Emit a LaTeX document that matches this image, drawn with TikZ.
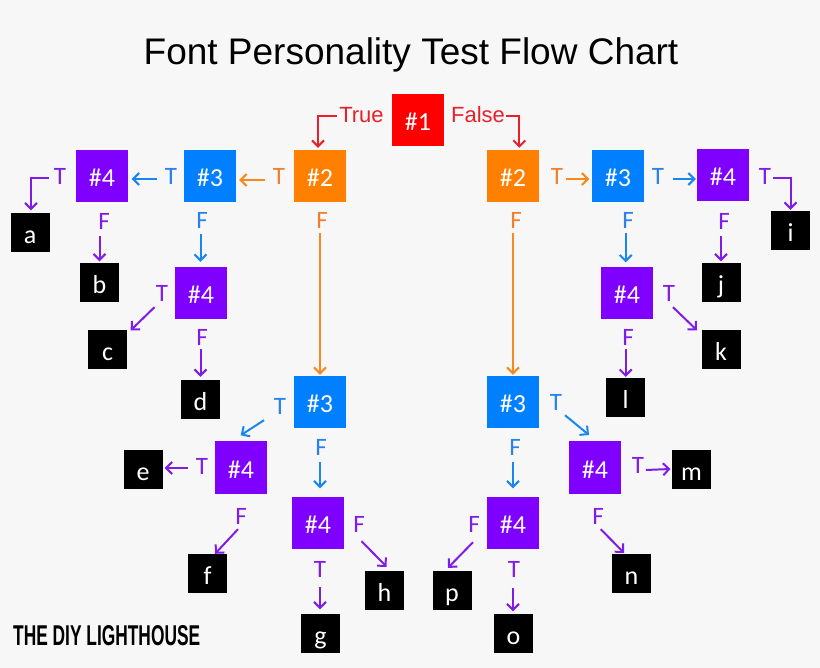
\documentclass[tikz,border=0pt]{standalone}
\usepackage{fontspec}
\usepackage{graphicx}
\setmainfont{Liberation Sans}
\newfontfamily\carlito{Carlito}
\usetikzlibrary{arrows.meta}
\definecolor{bgc}{HTML}{F7F7F8}
\definecolor{cred}{HTML}{FF0000}
\definecolor{corange}{HTML}{FF8000}
\definecolor{cblue}{HTML}{0080FF}
\definecolor{cpurple}{HTML}{8000FF}
\definecolor{lred}{HTML}{E8202A}
\definecolor{lorange}{HTML}{EE7F2D}
\definecolor{lblue}{HTML}{2A80EC}
\definecolor{lpurple}{HTML}{7F1CE6}
\definecolor{aorange}{HTML}{F58A1E}
\definecolor{ablue}{HTML}{1A86F0}
\tikzset{
  qbox/.style={minimum size=52pt,inner sep=0pt,text=white,font=\carlito\fontsize{26}{30}\selectfont,text height=22pt,text depth=0pt},
  leaf/.style={fill=black,minimum size=39pt,inner sep=0pt,text=white,font=\carlito\fontsize{26}{30}\selectfont,text height=22pt,text depth=0pt},
  lbl/.style={inner sep=0pt,font=\carlito\fontsize{25}{30}\selectfont,text height=16pt,text depth=0pt},
  word/.style={inner sep=0pt,font=\fontsize{22}{26}\selectfont,text=lred,text height=16pt,text depth=0pt},
  arr/.style={line width=2pt,-{Straight Barb[length=6pt,width=12pt,line width=2pt]}},
  ar/.style={arr,color=lred},
  ao/.style={arr,color=aorange},
  ab/.style={arr,color=ablue},
  ap/.style={arr,color=lpurple},
}
\begin{document}
\begin{tikzpicture}[x=1pt,y=-1pt]
\fill[bgc] (0,0) rectangle (820,668);
\useasboundingbox (0,0) rectangle (820,668);
\node[inner sep=0pt,font=\fontsize{37}{44}\selectfont] (title) at (411,55) {Font Personality Test Flow Chart};
% question boxes
\node[qbox,fill=cred] (root) at (418,120) {\#1};
\node[qbox,fill=corange] (b2L) at (320,176) {\#2};
\node[qbox,fill=corange] (b2R) at (513,176) {\#2};
\node[qbox,fill=cblue] (b3L) at (210,176) {\#3};
\node[qbox,fill=cblue] (b3R) at (618,176) {\#3};
\node[qbox,fill=cblue] (b3LL) at (320,402) {\#3};
\node[qbox,fill=cblue] (b3RL) at (513,402) {\#3};
\node[qbox,fill=cpurple] (b4a) at (102,176) {\#4};
\node[qbox,fill=cpurple] (b4c) at (201,293) {\#4};
\node[qbox,fill=cpurple] (b4e) at (241,467.5) {\#4};
\node[qbox,fill=cpurple] (b4g) at (318,522.5) {\#4};
\node[qbox,fill=cpurple] (b4i) at (723,175) {\#4};
\node[qbox,fill=cpurple] (b4k) at (627,293) {\#4};
\node[qbox,fill=cpurple] (b4m) at (595,467.5) {\#4};
\node[qbox,fill=cpurple] (b4o) at (513,522.5) {\#4};
% leaves
\node[leaf] (la) at (30,232.5) {a};
\node[leaf] (lb) at (99.5,283) {b};
\node[leaf] (lc) at (107.5,350) {c};
\node[leaf] (ld) at (200.5,399.5) {d};
\node[leaf] (le) at (143,469.5) {e};
\node[leaf] (lf) at (207.5,573.5) {f};
\node[leaf] (lg) at (320.5,633) {g};
\node[leaf] (lh) at (384.5,590.5) {h};
\node[leaf] (li) at (790.5,230.5) {i};
\node[leaf] (lj) at (721,283) {j};
\node[leaf] (lk) at (721,350) {k};
\node[leaf] (ll) at (625.5,397.5) {l};
\node[leaf] (lm) at (691.5,469.5) {m};
\node[leaf] (ln) at (631.5,573.5) {n};
\node[leaf] (lo) at (513.5,633) {o};
\node[leaf] (lp) at (452,590.5) {p};
% labels
\node[word] (wtrue) at (361.5,115) {True};
\node[word] (wfalse) at (478,115) {False};
\node[lbl,text=lorange] (t1) at (279,177) {T};
\node[lbl,text=lblue] (t2) at (171,177) {T};
\node[lbl,text=lpurple] (t3) at (60,177) {T};
\node[lbl,text=lpurple] (f3) at (104,222) {F};
\node[lbl,text=lblue] (f2) at (202,221) {F};
\node[lbl,text=lorange] (f1) at (322,221) {F};
\node[lbl,text=lpurple] (t4) at (162,294) {T};
\node[lbl,text=lpurple] (f4) at (202,338) {F};
\node[lbl,text=lblue] (t5) at (280,407) {T};
\node[lbl,text=lblue] (f5) at (321,448) {F};
\node[lbl,text=lpurple] (t6) at (202,467) {T};
\node[lbl,text=lpurple] (f6) at (241,516) {F};
\node[lbl,text=lpurple] (f7) at (359,524) {F};
\node[lbl,text=lpurple] (t7) at (320,569) {T};
\node[lbl,text=lorange] (t8) at (557,177) {T};
\node[lbl,text=lblue] (t9) at (658,177) {T};
\node[lbl,text=lpurple] (t10) at (765,177) {T};
\node[lbl,text=lorange] (f8) at (516,221) {F};
\node[lbl,text=lblue] (f9) at (628,221) {F};
\node[lbl,text=lpurple] (f10) at (724,222) {F};
\node[lbl,text=lpurple] (t11) at (669,294) {T};
\node[lbl,text=lpurple] (f11) at (628,338) {F};
\node[lbl,text=lblue] (t12) at (556,403) {T};
\node[lbl,text=lblue] (f12) at (515,448) {F};
\node[lbl,text=lpurple] (t13) at (638,466) {T};
\node[lbl,text=lpurple] (f13) at (598,516) {F};
\node[lbl,text=lpurple] (f14) at (474,524) {F};
\node[lbl,text=lpurple] (t14) at (514,569) {T};
% connectors
\coordinate (cTrue) at (337,116);
\coordinate (cFalse) at (506,116);
\draw[ar] (cTrue) -| ([xshift=-2pt,yshift=2pt]b2L.north);
\draw[ar] (cFalse) -| ([xshift=6.3pt,yshift=2pt]b2R.north);
\draw[ao] ([xshift=-8pt,yshift=-3pt]t1.west) -- ([xshift=3pt,yshift=-4pt]b3L.east);
\draw[ab] ([xshift=-8pt,yshift=-2pt]t2.west) -- ([xshift=3.5pt,yshift=-3pt]b4a.east);
\draw[ap] ([xshift=-5pt,yshift=-1pt]t3.west) -| ([xshift=1pt,yshift=2.5pt]la.north);
\draw[ap] ([xshift=-4.5pt,yshift=-6pt]f3.south) -- ([yshift=2pt]lb.north);
\draw[ab] ([xshift=-1.5pt,yshift=-5pt]f2.south) -- ([xshift=-.5pt,yshift=5pt]b4c.north);
\draw[ao] ([xshift=-2pt,yshift=-4pt]f1.south) -- ([yshift=1pt]b3LL.north);
\draw[ap] ([xshift=-7.5pt,yshift=-5pt]t4.south) -- ([xshift=3.5pt]lc.north east);
\draw[ap] ([xshift=-1.5pt,yshift=-3pt]f4.south) -- ([yshift=3pt]ld.north);
\draw[ab] ([xshift=-16pt,yshift=-5pt]t5.south) -- ([xshift=-.3pt,yshift=6pt]b4e.north);
\draw[ab] ([xshift=-1pt,yshift=-6pt]f5.south) -- ([xshift=2pt,yshift=8pt]b4g.north);
\draw[ap] ([xshift=-8pt,yshift=-1pt]t6.west) -- ([xshift=2pt,yshift=1.5pt]le.east);
\draw[ap] ([xshift=-3pt,yshift=-5pt]f6.south) -- ([xshift=7.5pt]lf.north);
\draw[ap] ([xshift=2.5pt,yshift=-9pt]f7.south) -- ([xshift=2.2pt,yshift=4pt]lh.north);
\draw[ap] ([yshift=-10pt]t7.south) -- ([xshift=-.5pt,yshift=4pt]lg.north);
\draw[ao] ([xshift=3pt,yshift=-2pt]t8.east) -- ([xshift=-2.5pt,yshift=-3pt]b3R.west);
\draw[ab] ([xshift=9pt,yshift=-2pt]t9.east) -- ([xshift=-1pt,yshift=-4pt]b4i.west);
\draw[ap] ([xshift=2pt,yshift=-1pt]t10.east) -| ([yshift=1pt]li.north);
\draw[ap] ([xshift=-3pt,yshift=-6pt]f10.south) -- ([yshift=2pt]lj.north);
\draw[ab] ([xshift=-2.3pt,yshift=-4pt]f9.south) -- ([xshift=-1.3pt,yshift=4.5pt]b4k.north);
\draw[ap] ([xshift=4pt,yshift=-5pt]t11.south) -- ([xshift=-4.3pt]lk.north west);
\draw[ap] ([xshift=-2.3pt,yshift=-3pt]f11.south) -- ([xshift=.2pt,yshift=1pt]ll.north);
\draw[ao] ([xshift=-3pt,yshift=-4pt]f8.south) -- ([yshift=1pt]b3RL.north);
\draw[ab] ([xshift=9pt,yshift=-4pt]t12.south) -- ([xshift=-6pt,yshift=6.3pt]b4m.north);
\draw[ab] ([xshift=-2pt,yshift=-6pt]f12.south) -- ([yshift=8pt]b4o.north);
\draw[ap] ([xshift=1.5pt,yshift=-4pt]t13.east) -- ([xshift=-1.3pt,yshift=.5pt]lm.west);
\draw[ap] ([xshift=2.7pt,yshift=-5pt]f13.south) -- ([xshift=-7.5pt,yshift=1pt]ln.north);
\draw[ap] ([xshift=-1pt,yshift=-10pt]f14.south) -- ([xshift=-4pt,yshift=3pt]lp.north);
\draw[ap] ([xshift=-1pt,yshift=-11pt]t14.south) -- ([xshift=-.5pt,yshift=2pt]lo.north);
% logo
\node[inner sep=0pt,anchor=north west] (logo) at (13,625) {\resizebox{187pt}{20pt}{\bfseries THE DIY LIGHTHOUSE}};
\end{tikzpicture}
\end{document}
